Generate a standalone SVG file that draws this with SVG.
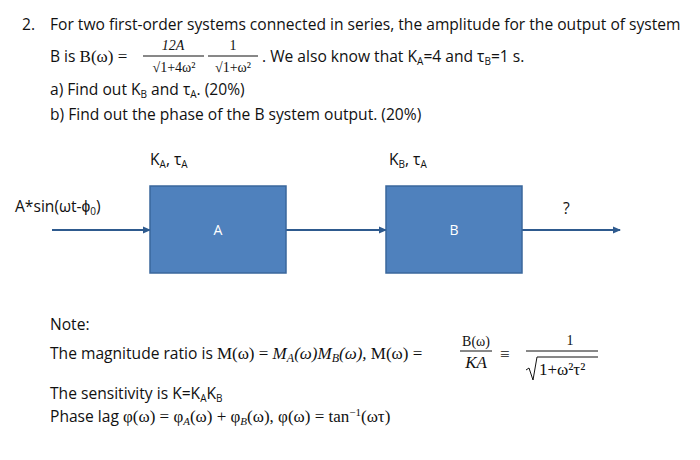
<svg xmlns="http://www.w3.org/2000/svg" width="700" height="460" viewBox="0 0 700 460">
<style>
text{font-family:"Open Sans","Liberation Sans",sans-serif;font-size:15.6px;fill:#111}
.m{font-family:"Liberation Serif","DejaVu Serif",serif;font-size:17px}
.s{font-size:14px}
.box{fill:#4f81bd;stroke:#3a679c;stroke-width:1.5}
.wl{fill:#fff;font-size:14px}
.c{stroke:#2e5a8e;stroke-width:2;fill:none;marker-end:url(#ah)}
.fl{stroke:#111;stroke-width:1}
</style>
<defs><marker id="ah" markerWidth="8" markerHeight="8" refX="7" refY="4" orient="auto" markerUnits="userSpaceOnUse"><path d="M0,0.5 L8,4 L0,7.5 Z" fill="#2e5a8e"/></marker></defs>
<rect width="700" height="460" fill="#fff"/>
<text x="22" y="30">2.</text>
<text x="50" y="30">For two first-order systems connected in series, the amplitude for the output of system</text>
<text x="50" y="62">B is <tspan class="m">B(ω) =</tspan></text>
<text class="m s" x="173" y="50" text-anchor="middle" font-style="italic">12A</text>
<line class="fl" x1="143" y1="56" x2="204" y2="56"/>
<text class="m s" x="174" y="72" text-anchor="middle">√1+4ω²</text>
<text class="m s" x="233" y="50" text-anchor="middle">1</text>
<line class="fl" x1="208" y1="56" x2="258" y2="56"/>
<text class="m s" x="233" y="72" text-anchor="middle">√1+ω²</text>
<text x="262" y="62">. We also know that K<tspan font-size="10" dy="3">A</tspan><tspan dy="-3">=4 and τ</tspan><tspan font-size="10" dy="3">B</tspan><tspan dy="-3">=1 s.</tspan></text>
<text x="50" y="95">a)  Find out K<tspan font-size="10" dy="3">B</tspan><tspan dy="-3"> and τ</tspan><tspan font-size="10" dy="3">A</tspan><tspan dy="-3">.  (20%)</tspan></text>
<text x="50" y="120">b)  Find out the phase of the B system output. (20%)</text>

<g id="connectors">
<line class="c" x1="52" y1="230" x2="150" y2="230"/>
<line class="c" x1="286" y1="230" x2="386" y2="230"/>
<line class="c" x1="522" y1="230" x2="620" y2="230"/>
</g>
<g id="nodeA"><rect class="box" x="150" y="186" width="136" height="87"/><text class="wl" x="218" y="235" text-anchor="middle">A</text></g>
<g id="nodeB"><rect class="box" x="386" y="186" width="136" height="87"/><text class="wl" x="454" y="235" text-anchor="middle">B</text></g>
<text x="150" y="165">K<tspan font-size="10" dy="3">A</tspan><tspan dy="-3">, τ</tspan><tspan font-size="10" dy="3">A</tspan></text>
<text x="389" y="165">K<tspan font-size="10" dy="3">B</tspan><tspan dy="-3">, τ</tspan><tspan font-size="10" dy="3">A</tspan></text>
<text x="15" y="212">A*sin(ωt-ϕ<tspan font-size="10" dy="3">0</tspan><tspan dy="-3">)</tspan></text>
<text x="563" y="214">?</text>

<text x="50" y="330">Note:</text>
<text x="50" y="359">The magnitude ratio is <tspan class="m" font-size="18.5">M(ω) = <tspan font-style="italic">M<tspan font-size="12" dy="3">A</tspan><tspan dy="-3">(ω)M</tspan><tspan font-size="12" dy="3">B</tspan><tspan dy="-3">(ω),</tspan></tspan>  M(ω) =</tspan></text>
<text class="m s" x="476" y="346" text-anchor="middle">B(ω)</text>
<line class="fl" x1="460" y1="351" x2="492" y2="351"/>
<text class="m" x="476" y="368" text-anchor="middle" font-style="italic">KA</text>
<text class="m" x="500" y="360" font-size="19">≡</text>
<text class="m s" x="570" y="345" text-anchor="middle">1</text>
<line class="fl" x1="526" y1="351" x2="598" y2="351"/>
<path d="M526,370 L529,368 L533,380 L537,357 L598,357" class="fl" fill="none"/>
<text class="m" x="539" y="375">1+ω²τ²</text>
<text x="50" y="399">The sensitivity is K=K<tspan font-size="10" dy="3">A</tspan><tspan dy="-3">K</tspan><tspan font-size="10" dy="3">B</tspan></text>
<text x="50" y="422">Phase lag <tspan class="m">φ(ω) = φ<tspan font-style="italic" font-size="11" dy="3">A</tspan><tspan dy="-3">(ω) + φ</tspan><tspan font-style="italic" font-size="11" dy="3">B</tspan><tspan dy="-3">(ω),  φ(ω) = tan</tspan><tspan font-size="11" dy="-6">−1</tspan><tspan dy="6">(ωτ)</tspan></tspan></text>
</svg>
